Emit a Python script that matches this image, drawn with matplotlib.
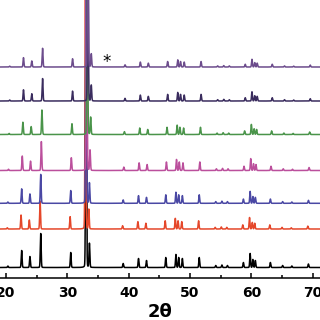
import numpy as np
import matplotlib.pyplot as plt

# reflection positions (2theta) and peak heights
peak_pos = [20.3, 22.55, 23.9, 25.66, 30.55, 33.05, 33.6, 39.1, 41.6, 42.9,
            46.05, 47.7, 48.15, 48.75, 51.5, 54.2, 55.2, 56.1, 58.7, 59.8,
            60.25, 60.65, 63.1, 65.1, 66.6, 69.3]
peak_height = [1.5, 17, 11, 34, 15, 300, 24, 4, 9, 7,
               10, 13, 10, 9, 10, 2, 2.5, 2, 5, 14,
               8, 7, 5, 2, 1.5, 3.5]

# patterns from bottom to top
colors = ['#000000', '#e5472a', '#4a48a4', '#bb4f9c', '#4a944a', '#3a2c5e', '#6c4c8c']
offsets = [10.5, 49, 74.7, 107.5, 143.5, 177, 211]
scales = [1.0, 0.82, 0.85, 0.85, 0.72, 0.66, 0.55]
shifts = [0.0, -0.1, 0.0, 0.1, 0.2, 0.3, 0.3]

fig = plt.figure(figsize=(3.2, 3.2), dpi=100)
ax = fig.add_axes([0, 42 / 320, 1, 278 / 320])

tt = np.linspace(19.0, 71.2, 6000)
sig = 0.07
eta = 0.08
for col, off, sc, sh in zip(colors, offsets, scales, shifts):
    y = np.zeros_like(tt)
    for p, h in zip(peak_pos, peak_height):
        d = (tt - p - sh) / sig
        y += sc * h * ((1 - eta) * np.exp(-0.5 * d ** 2) + eta / (1 + d ** 2))
    ax.plot(tt, y + off, color=col, lw=1.1)

ax.text(36.47, 216, '*', fontsize=12, ha='center', va='center')

ax.set_xlim(19.02, 71.19)
ax.set_ylim(0, 278)
for s in ['left', 'right', 'top']:
    ax.spines[s].set_visible(False)
ax.spines['bottom'].set_linewidth(1.1)
ax.set_yticks([])
ax.set_xticks([20, 30, 40, 50, 60, 70])
ax.set_xticks([25, 35, 45, 55, 65], minor=True)
ax.tick_params(axis='x', which='major', direction='in', length=3.5, width=1.1, pad=6)
ax.tick_params(axis='x', which='minor', direction='in', length=2.3, width=1.1)
for lab in ax.get_xticklabels():
    lab.set_fontsize(10)
    lab.set_fontweight('bold')
ax.set_xlabel('2θ', fontsize=13, fontweight='bold', labelpad=2)

fig.savefig('out.png', dpi=100)
